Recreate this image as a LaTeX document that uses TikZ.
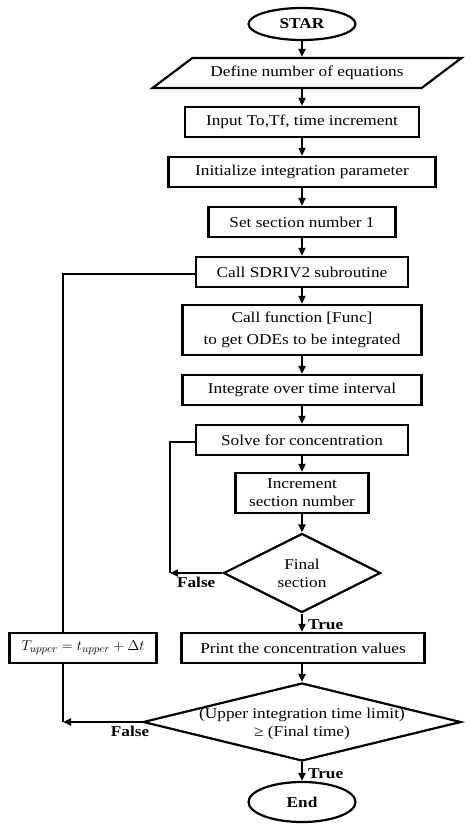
\documentclass[tikz,border=0pt]{standalone}
\usepackage{fontspec}
\setmainfont{Liberation Serif}[FakeStretch=1.15]
\usetikzlibrary{shapes.geometric,arrows.meta}
\begin{document}
\begin{tikzpicture}[
    x=1pt, y=-1pt,
    font=\fontsize{15}{18}\selectfont,
    >={Triangle[length=8pt,width=7pt]},
    block/.style={
        rectangle,
        draw,
        line width=2.4pt,
        minimum height=30pt,
        inner sep=2pt,
        align=center
    },
    terminal/.style={
        ellipse,
        draw,
        line width=2.2pt,
        minimum width=107pt,
        inner sep=0pt,
        font=\fontsize{15}{18}\selectfont\bfseries
    },
    decision/.style={
        diamond,
        draw,
        line width=2.2pt,
        inner sep=0pt,
        align=center
    },
    inout/.style={
        trapezium,
        trapezium left angle=24,
        trapezium right angle=156,
        trapezium stretches body,
        draw,
        line width=2.2pt,
        minimum height=30pt,
        inner sep=2pt
    },
    flow/.style={->, line width=2.2pt},
    link/.style={line width=2.2pt},
    tag/.style={font=\fontsize{15}{18}\selectfont\bfseries, inner sep=2pt}
]

    \useasboundingbox (0,0) rectangle (474,829);

    \node[terminal, minimum height=32pt] (star) at (302,24) {STAR};
    \node[inout, minimum width=309pt] (define) at (307,73) {Define number of equations};
    \node[block, minimum width=234pt] (input) at (302,122) {Input To,Tf, time increment};
    \node[block, minimum width=267pt] (init) at (302,172) {Initialize integration parameter};
    \node[block, minimum width=187pt] (setsec) at (302,222) {Set section number 1};
    \node[block, minimum width=212pt] (sdriv) at (302,272) {Call SDRIV2 subroutine};
    \node[block, minimum width=239pt, minimum height=50pt,
        font=\fontsize{15}{22}\selectfont] (func) at (302,330)
        {Call function [Func]\\to get ODEs to be integrated};
    \node[block, minimum width=239pt] (integ) at (302,390) {Integrate over time interval};
    \node[block, minimum width=212pt] (solve) at (302,440) {Solve for concentration};
    \node[block, minimum width=133pt, minimum height=40pt] (incr) at (302,493)
        {Increment\\section number};
    \node[decision, minimum width=157pt, minimum height=79pt] (final) at (302,573)
        {Final\\section};
    \node[block, minimum width=243pt] (print) at (303,648) {Print the concentration values};
    \node[block, minimum width=147pt] (tupd) at (83,648) {$T_{upper} = t_{upper} + \Delta t$};
    \node[decision, minimum width=318pt, minimum height=78pt] (limit) at (302,722) {};
    \node[align=center] (limittext) at (302,724)
        {(Upper integration time limit)\\≥ (Final time)};
    \node[terminal, minimum height=40pt] (end) at (302,802) {End};

    \coordinate (innerTop) at (170,442);
    \coordinate (outerTop) at (63,274);

    \draw[flow] (star) -- (star |- define.north);
    \draw[flow] (define.south -| input) -- (input);
    \draw[flow] (input) -- (init);
    \draw[flow] (init) -- (setsec);
    \draw[flow] (setsec) -- (sdriv);
    \draw[flow] (sdriv) -- (func);
    \draw[flow] (func) -- (integ);
    \draw[flow] (integ) -- (solve);
    \draw[flow] (solve) -- (incr);
    \draw[flow] (incr) -- (final);
    \draw[flow] (final) -- (final |- print.north)
        node[tag, pos=0.6, right, xshift=3pt] {True};
    \draw[flow] (print.south -| limit) -- (limit);
    \draw[flow] (limit) -- (end)
        node[tag, pos=0.6, right, xshift=3pt] {True};

    \draw[flow] (final.west) -- (final.west -| innerTop)
        node[tag, midway, below, yshift=-1pt] {False};
    \draw[link] (solve.west |- innerTop) -- (innerTop) -- (final.west -| innerTop);

    \draw[flow] (limit.west) -- (limit.west -| outerTop)
        node[tag, pos=0.15, below, yshift=-1pt] {False};
    \draw[link] (sdriv.west |- outerTop) -- (outerTop) -- (tupd.north -| outerTop);
    \draw[link] (tupd.south -| outerTop) -- (limit.west -| outerTop);

\end{tikzpicture}
\end{document}
